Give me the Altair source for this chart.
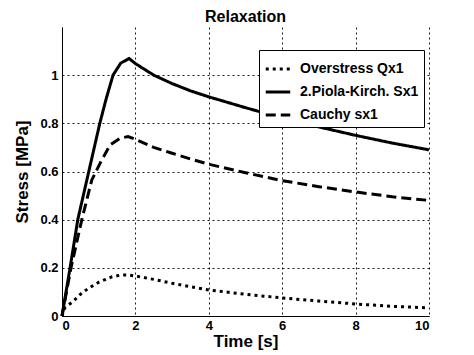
import altair as alt
import pandas as pd

# Overstress Qx1
t_q = [0, 0.08, 0.3, 0.5, 0.72, 1.0, 1.35, 1.6, 1.8, 2.0, 2.5, 3, 3.5, 4, 5, 6, 7, 8, 9, 10]
v_q = [0, 0.035, 0.06, 0.09, 0.115, 0.14, 0.162, 0.17, 0.17, 0.166, 0.152, 0.136, 0.122, 0.108, 0.09, 0.075, 0.062, 0.05, 0.04, 0.034]
# 2.Piola-Kirch. Sx1
t_s = [0, 0.22, 0.43, 0.7, 1.03, 1.2, 1.39, 1.6, 1.83, 2.0, 2.5, 3, 3.5, 4, 5, 6, 7, 8, 9, 10]
v_s = [0, 0.2, 0.4, 0.58, 0.8, 0.9, 1.0, 1.05, 1.069, 1.048, 1.0, 0.965, 0.935, 0.91, 0.865, 0.822, 0.785, 0.75, 0.718, 0.69]
# Cauchy sx1
t_c = [0, 0.245, 0.54, 0.81, 1.04, 1.31, 1.58, 1.8, 2.0, 2.5, 3, 3.5, 4, 5, 6, 7, 8, 9, 10]
v_c = [0, 0.2, 0.4, 0.564, 0.635, 0.71, 0.738, 0.745, 0.734, 0.70, 0.676, 0.652, 0.63, 0.595, 0.562, 0.537, 0.515, 0.495, 0.48]

names = ["Overstress Qx1", "2.Piola-Kirch. Sx1", "Cauchy sx1"]
series = [(t_q, v_q), (t_s, v_s), (t_c, v_c)]

rows = []
for name, (ts, vals) in zip(names, series):
    for ti, v in zip(ts, vals):
        rows.append({"t": ti, "stress": v, "series": name})
df = pd.DataFrame(rows)

FONT = "Liberation Sans"

chart = alt.Chart(df).mark_line(color="black", strokeWidth=3).encode(
    x=alt.X("t:Q", title="Time [s]",
            scale=alt.Scale(domain=[0, 10], nice=False),
            axis=alt.Axis(values=[0, 2, 4, 6, 8, 10], format="d")),
    y=alt.Y("stress:Q", title="Stress [MPa]",
            scale=alt.Scale(domain=[0, 1.2], nice=False),
            axis=alt.Axis(values=[0, 0.2, 0.4, 0.6, 0.8, 1.0], labelExpr="datum.value == 0 ? '0' : (datum.value == 1 ? '1' : format(datum.value, '.1f'))")),
    strokeDash=alt.StrokeDash("series:N",
                              scale=alt.Scale(domain=names, range=[[3, 4], [1, 0], [10, 5]]),
                              sort=names,
                              legend=alt.Legend(title=None, orient="none", legendX=197, legendY=23,
                                                strokeColor="black", fillColor="white",
                                                padding=5, rowPadding=2,
                                                symbolType="stroke", symbolStrokeWidth=3,
                                                symbolSize=600, symbolStrokeColor="black",
                                                labelFont=FONT, labelFontSize=14, labelFontWeight="bold",
                                                labelColor="black", labelOffset=8)),
    detail="series:N",
).properties(
    width=367, height=289,
    title=alt.TitleParams("Relaxation", font=FONT, fontSize=16, fontWeight="bold", color="black",
                          offset=2),
    autosize=alt.AutoSizeParams(type="none"),
    padding={"left": 54, "top": 19, "right": 20, "bottom": 40},
).configure_axis(
    domainColor="black", domainWidth=1,
    grid=True, gridColor="black", gridDash=[2, 3], gridWidth=1, gridOpacity=0.9,
    ticks=False, labelFont=FONT, labelFontSize=13, labelFontWeight="bold", labelColor="black",
    titleFont=FONT, titleFontSize=17, titleFontWeight="bold", titleColor="black",
).configure_axisX(labelPadding=3, titlePadding=1).configure_axisY(labelPadding=4, titlePadding=8
).configure_view(stroke=None)

chart.save("out.html", embed_options={"renderer": "svg", "actions": False})
